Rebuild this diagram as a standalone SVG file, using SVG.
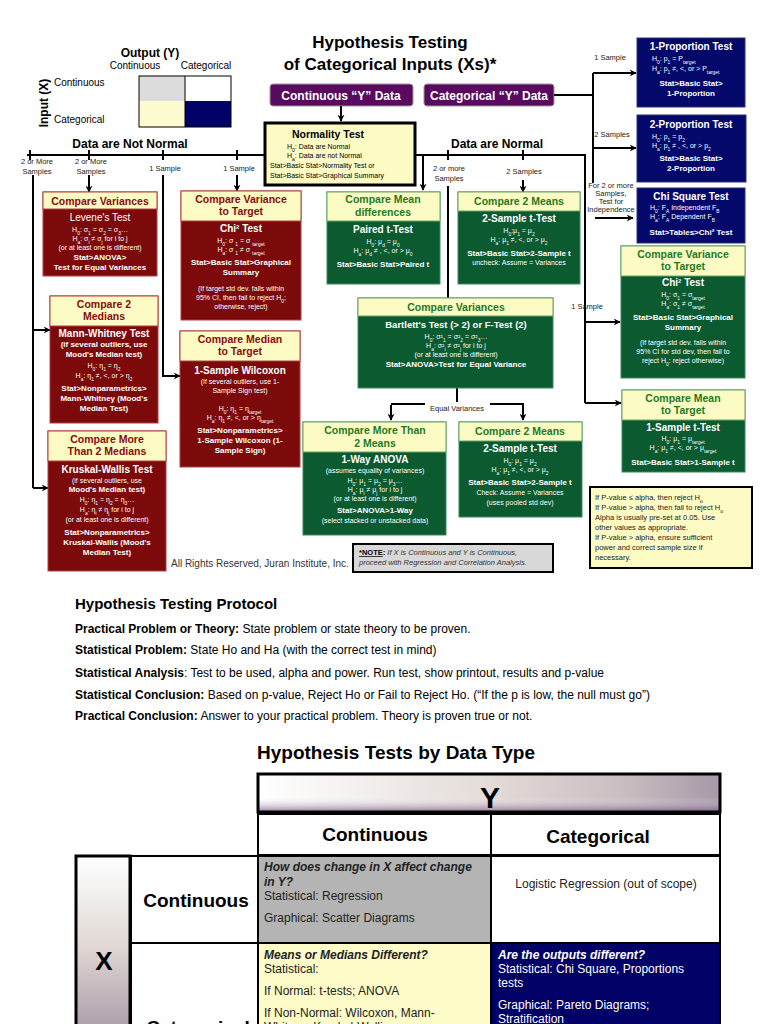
<svg xmlns="http://www.w3.org/2000/svg" width="768" height="1024" viewBox="0 0 768 1024">
<defs>
<marker id="ah" viewBox="0 0 10 10" refX="9" refY="5" markerWidth="7" markerHeight="7" orient="auto" markerUnits="userSpaceOnUse"><path d="M0,0 L10,5 L0,10 L3,5 z" fill="#000"/></marker>
<linearGradient id="gy" x1="0" x2="1" y1="0" y2="0"><stop offset="0" stop-color="#fff"/><stop offset="0.5" stop-color="#e4dcd8"/><stop offset="0.8" stop-color="#c8bcc0"/><stop offset="1" stop-color="#a898a8"/></linearGradient>
<linearGradient id="gy2" x1="0" x2="0" y1="0" y2="1"><stop offset="0.6" stop-color="#fff" stop-opacity="0"/><stop offset="1" stop-color="#6a4a7a" stop-opacity="0.7"/></linearGradient>
<linearGradient id="gx" x1="0" x2="0" y1="0" y2="1"><stop offset="0" stop-color="#fff"/><stop offset="0.5" stop-color="#e0d8d4"/><stop offset="1" stop-color="#a898a8"/></linearGradient>
</defs>
<style>
text{font-family:"Liberation Sans",Arial,sans-serif}
.c{text-anchor:middle}
.b{font-weight:bold}
.hd{font-weight:bold;font-size:10.5px;text-anchor:middle}
.hr{fill:#8b0a0a}.hg{fill:#1e7a1e}
.w{fill:#fff;text-anchor:middle}
.t{font-size:10px;font-weight:bold}
.s7{font-size:7px}.s8{font-size:8px;font-weight:bold}
.red{fill:#7d0a0a;stroke:#b04040;stroke-width:1}
.grn{fill:#0b5a30;stroke:#3b8a5a;stroke-width:1}
.nav{fill:#05086b;stroke:#303070;stroke-width:1}
.hy{fill:#fdfbc4;stroke:#b04040;stroke-width:1}
.hyg{fill:#fdfbc4;stroke:#6aa56a;stroke-width:1}
.ln{stroke:#000;stroke-width:2;fill:none}
.lb{font-size:7.5px;fill:#222}
.btn{fill:#5a0a5e;stroke:#999;stroke-width:1}
.p{font-size:12px;fill:#000}
.sub{font-size:70%;baseline-shift:sub}
</style>
<rect width="768" height="1024" fill="#fff"/>

<g id="title">
<text x="390" y="48" class="c b" font-size="17">Hypothesis Testing</text>
<text x="390" y="70" class="c b" font-size="17">of Categorical Inputs (Xs)*</text>
</g>

<g id="legend">
<text x="150" y="57" class="c b" font-size="12">Output (Y)</text>
<text x="135" y="69" class="c" font-size="10">Continuous</text>
<text x="206" y="69" class="c" font-size="10">Categorical</text>
<text transform="translate(48,103) rotate(-90)" class="c b" font-size="12">Input (X)</text>
<text x="54" y="86" font-size="10">Continuous</text>
<text x="54" y="123" font-size="10">Categorical</text>
<rect x="139" y="76" width="46" height="25" fill="#dcdcdc"/>
<rect x="185" y="76" width="46" height="25" fill="#fff"/>
<rect x="139" y="101" width="46" height="26" fill="#fdfbcf"/>
<rect x="185" y="101" width="46" height="26" fill="#000066"/>
<rect x="139" y="76" width="92" height="51" fill="none" stroke="#000" stroke-width="1"/>
<line x1="185" y1="76" x2="185" y2="127" stroke="#000"/>
</g>

<g id="btnCont"><rect x="270" y="84" width="143" height="22" rx="3" class="btn"/><text x="341" y="100" class="w b" font-size="12">Continuous “Y” Data</text></g>
<g id="btnCat"><rect x="424" y="84" width="130" height="22" rx="3" class="btn"/><text x="489" y="100" class="w b" font-size="12">Categorical “Y” Data</text></g>

<g id="connectors">
<path class="ln" d="M341,106 V121" marker-end="url(#ah)"/>
<path class="ln" d="M554,95 H593"/>
<path class="ln" d="M593,73 V183"/>
<path class="ln" d="M593,73 H636" marker-end="url(#ah)"/>
<path class="ln" d="M593,148 H636" marker-end="url(#ah)"/>
<path class="ln" d="M595,218 H633" marker-end="url(#ah)"/>
<path class="ln" d="M27,155 H264"/>
<path class="ln" d="M30,150 V160 M89,150 V160 M163,150 V160 M237,150 V160"/>
<path class="ln" d="M33,175 V488"/>
<path class="ln" d="M33,330 H50" marker-end="url(#ah)"/>
<path class="ln" d="M33,488 H48" marker-end="url(#ah)"/>
<path class="ln" d="M89,175 V192" marker-end="url(#ah)"/>
<path class="ln" d="M163,175 V376 H180" marker-end="url(#ah)"/>
<path class="ln" d="M237,175 V191" marker-end="url(#ah)"/>
<path class="ln" d="M416,155 H585 V403"/>
<path class="ln" d="M423,155 V190" marker-end="url(#ah)"/>
<path class="ln" d="M448,150 V160 M448,186 V298"/>
<path class="ln" d="M523,150 V160 M523,180 V192" marker-end="url(#ah)"/>
<path class="ln" d="M585,322 H620" marker-end="url(#ah)"/>
<path class="ln" d="M585,403 H621" marker-end="url(#ah)"/>
<path class="ln" d="M457,388 V402"/>
<path class="ln" d="M391,405 V420" marker-end="url(#ah)"/>
<path class="ln" d="M391,404 H425 M490,404 H523 V420" marker-end="url(#ah)"/>
</g>

<g id="labels">
<text x="130" y="148" class="c b" font-size="12">Data are Not Normal</text>
<text x="497" y="148" class="c b" font-size="12">Data are Normal</text>
<text x="37" y="164" class="c lb">2 or More</text><text x="37" y="174" class="c lb">Samples</text>
<text x="91" y="164" class="c lb">2 or More</text><text x="91" y="174" class="c lb">Samples</text>
<text x="165" y="171" class="c lb">1 Sample</text>
<text x="239" y="171" class="c lb">1 Sample</text>
<text x="449" y="171" class="c lb">2 or more</text><text x="449" y="181" class="c lb">Samples</text>
<text x="524" y="174" class="c lb">2 Samples</text>
<text x="610" y="60" class="c lb">1 Sample</text>
<text x="612" y="137" class="c lb">2 Samples</text>
<text x="611" y="188" class="c lb">For 2 or more</text><text x="611" y="196" class="c lb">Samples,</text><text x="611" y="204" class="c lb">Test for</text><text x="611" y="212" class="c lb">Independence</text>
<text x="587" y="309" class="c lb">1 Sample</text>
<text x="457" y="411" class="c lb">Equal Variances</text>
<text x="171" y="567" font-size="10" fill="#333">All Rights Reserved, Juran Institute, Inc.</text>
</g>

<g id="normality">
<rect x="265" y="123" width="150" height="62" fill="#fdfbc4" stroke="#000" stroke-width="3"/>
<text x="328" y="138" class="b" font-size="10.5" text-anchor="middle">Normality Test</text>
<text x="287" y="149" class="s7">H<tspan class="sub">0</tspan>:  Data are Normal</text>
<text x="287" y="158" class="s7">H<tspan class="sub">a</tspan>:  Data are not Normal</text>
<text x="270" y="168" class="s7">Stat&gt;Basic Stat&gt;Normality Test or</text>
<text x="270" y="178" class="s7">Stat&gt;Basic Stat&gt;Graphical Summary</text>
</g>

<g id="cmpVarL">
<rect x="43" y="192" width="114" height="84" class="red"/><rect x="43" y="192" width="114" height="17" class="hy"/>
<text x="100" y="205" class="hd hr">Compare Variances</text>
<text x="100" y="221" class="w" font-size="10">Levene's Test</text>
<text x="100" y="232" class="w s7">H<tspan class="sub">0</tspan>: σ<tspan class="sub">1</tspan> = σ<tspan class="sub">2</tspan> = σ<tspan class="sub">3</tspan>…</text>
<text x="100" y="241" class="w s7">H<tspan class="sub">a</tspan>: σ<tspan class="sub">i</tspan> ≠ σ<tspan class="sub">j</tspan> for i to j</text>
<text x="100" y="250" class="w s7">(or at least one is different)</text>
<text x="100" y="260" class="w s8">Stat&gt;ANOVA&gt;</text>
<text x="100" y="270" class="w s8">Test for Equal Variances</text>
</g>

<g id="cmp2Med">
<rect x="50" y="296" width="108" height="127" class="red"/><rect x="50" y="296" width="108" height="30" class="hy"/>
<text x="104" y="308" class="hd hr">Compare 2</text><text x="104" y="320" class="hd hr">Medians</text>
<text x="104" y="337" class="w t">Mann-Whitney Test</text>
<text x="104" y="347" class="w s8">(if several outliers, use</text>
<text x="104" y="357" class="w s8">Mood's Median test)</text>
<text x="104" y="368" class="w s7">H<tspan class="sub">0</tspan>:  η<tspan class="sub">1</tspan> = η<tspan class="sub">2</tspan></text>
<text x="104" y="378" class="w s7">H<tspan class="sub">a</tspan>:  η<tspan class="sub">1</tspan> ≠, &lt;, or &gt; η<tspan class="sub">2</tspan></text>
<text x="104" y="391" class="w s8">Stat&gt;Nonparametrics&gt;</text>
<text x="104" y="401" class="w s8">Mann-Whitney (Mood's</text>
<text x="104" y="411" class="w s8">Median Test)</text>
</g>

<g id="cmpMoreMed">
<rect x="48" y="431" width="118" height="140" class="red"/><rect x="48" y="431" width="118" height="30" class="hy"/>
<text x="107" y="443" class="hd hr">Compare More</text><text x="107" y="455" class="hd hr">Than 2 Medians</text>
<text x="107" y="473" class="w t">Kruskal-Wallis Test</text>
<text x="107" y="483" class="w s7">(if several outliers, use</text>
<text x="107" y="492" class="w s8" font-size="7.5">Mood's Median test)</text>
<text x="107" y="502" class="w s7">H<tspan class="sub">0</tspan>: η<tspan class="sub">1</tspan> = η<tspan class="sub">2</tspan> = η<tspan class="sub">3</tspan>…</text>
<text x="107" y="512" class="w s7">H<tspan class="sub">a</tspan>: η<tspan class="sub">i</tspan> ≠ η<tspan class="sub">j</tspan> for i to j</text>
<text x="107" y="522" class="w s7">(or at least one is different)</text>
<text x="107" y="535" class="w s8">Stat&gt;Nonparametrics&gt;</text>
<text x="107" y="545" class="w s8">Kruskal-Wallis (Mood's</text>
<text x="107" y="555" class="w s8">Median Test)</text>
</g>

<g id="cmpVarTgtL">
<rect x="181" y="191" width="120" height="129" class="red"/><rect x="181" y="191" width="120" height="30" class="hy"/>
<text x="241" y="203" class="hd hr">Compare Variance</text><text x="241" y="215" class="hd hr">to Target</text>
<text x="241" y="232" class="w t">Chi² Test</text>
<text x="241" y="243" class="w s7">H<tspan class="sub">0</tspan>: σ <tspan class="sub">1</tspan> = σ <tspan class="sub">target</tspan></text>
<text x="241" y="252" class="w s7">H<tspan class="sub">a</tspan>: σ <tspan class="sub">1</tspan> ≠ σ <tspan class="sub">target</tspan></text>
<text x="241" y="265" class="w s8">Stat&gt;Basic Stat&gt;Graphical</text>
<text x="241" y="275" class="w s8">Summary</text>
<text x="241" y="291" class="w s7">(If target std dev. falls within</text>
<text x="241" y="300" class="w s7">95% CI, then fail to reject H<tspan class="sub">0</tspan>;</text>
<text x="241" y="309" class="w s7">otherwise, reject)</text>
</g>

<g id="cmpMedTgt">
<rect x="180" y="331" width="120" height="136" class="red"/><rect x="180" y="331" width="120" height="30" class="hy"/>
<text x="240" y="343" class="hd hr">Compare Median</text><text x="240" y="355" class="hd hr">to Target</text>
<text x="240" y="374" class="w t">1-Sample Wilcoxon</text>
<text x="240" y="384" class="w s7">(If several outliers, use 1-</text>
<text x="240" y="393" class="w s7">Sample Sign test)</text>
<text x="240" y="411" class="w s7">H<tspan class="sub">0</tspan>: η<tspan class="sub">1</tspan> = η<tspan class="sub">target</tspan></text>
<text x="240" y="420" class="w s7">H<tspan class="sub">a</tspan>: η<tspan class="sub">1</tspan> ≠, &lt;, or &gt; η<tspan class="sub">target</tspan></text>
<text x="240" y="433" class="w s8">Stat&gt;Nonparametrics&gt;</text>
<text x="240" y="443" class="w s8">1-Sample Wilcoxon (1-</text>
<text x="240" y="453" class="w s8">Sample Sign)</text>
</g>

<g id="cmpMeanDiff">
<rect x="327" y="192" width="113" height="92" class="grn"/><rect x="327" y="192" width="113" height="29" class="hyg"/>
<text x="383" y="203" class="hd hg">Compare Mean</text><text x="383" y="216" class="hd hg">differences</text>
<text x="383" y="233" class="w t">Paired t-Test</text>
<text x="383" y="244" class="w s7">H<tspan class="sub">0</tspan>: μ<tspan class="sub">d</tspan> = μ<tspan class="sub">0</tspan></text>
<text x="383" y="253" class="w s7">H<tspan class="sub">a</tspan>: μ<tspan class="sub">d</tspan> ≠ , &lt;, or &gt; μ<tspan class="sub">0</tspan></text>
<text x="383" y="267" class="w s8">Stat&gt;Basic Stat&gt;Paired t</text>
</g>

<g id="cmp2MeansTop">
<rect x="458" y="192" width="122" height="92" class="grn"/><rect x="458" y="192" width="122" height="19" class="hyg"/>
<text x="519" y="205" class="hd hg">Compare 2 Means</text>
<text x="519" y="222" class="w t">2-Sample t-Test</text>
<text x="519" y="233" class="w s7">H<tspan class="sub">0</tspan>:μ<tspan class="sub">1</tspan> = μ<tspan class="sub">2</tspan></text>
<text x="519" y="242" class="w s7">H<tspan class="sub">a</tspan>: μ<tspan class="sub">1</tspan> ≠, &lt;, or &gt; μ<tspan class="sub">2</tspan></text>
<text x="519" y="256" class="w s8">Stat&gt;Basic Stat&gt;2-Sample t</text>
<text x="519" y="265" class="w s7">uncheck: Assume = Variances</text>
</g>

<g id="cmpVarMid">
<rect x="358" y="298" width="195" height="90" class="grn"/><rect x="358" y="298" width="195" height="18" class="hyg"/>
<text x="456" y="311" class="hd hg">Compare Variances</text>
<text x="456" y="328" class="w b" font-size="9.5">Bartlett's Test (&gt; 2) or F-Test (2)</text>
<text x="456" y="339" class="w s7">H<tspan class="sub">0</tspan>: σ²<tspan class="sub">1</tspan> = σ²<tspan class="sub">2</tspan> = σ²<tspan class="sub">3</tspan>…</text>
<text x="456" y="348" class="w s7">H<tspan class="sub">a</tspan>: σ²<tspan class="sub">i</tspan> ≠ σ²<tspan class="sub">j</tspan>  for i to j</text>
<text x="456" y="357" class="w s7">(or at least one is different)</text>
<text x="456" y="367" class="w s8">Stat&gt;ANOVA&gt;Test for Equal Variance</text>
</g>

<g id="cmpMoreMeans">
<rect x="303" y="422" width="143" height="113" class="grn"/><rect x="303" y="422" width="143" height="30" class="hyg"/>
<text x="375" y="434" class="hd hg">Compare More Than</text><text x="375" y="447" class="hd hg">2 Means</text>
<text x="375" y="463" class="w t">1-Way ANOVA</text>
<text x="375" y="473" class="w s7">(assumes equality of variances)</text>
<text x="375" y="483" class="w s7">H<tspan class="sub">0</tspan>: μ<tspan class="sub">1</tspan> = μ<tspan class="sub">2</tspan> = μ<tspan class="sub">3</tspan>…</text>
<text x="375" y="492" class="w s7">H<tspan class="sub">a</tspan>: μ<tspan class="sub">i</tspan> ≠ μ<tspan class="sub">j</tspan> for i to j</text>
<text x="375" y="501" class="w s7">(or at least one is different)</text>
<text x="375" y="513" class="w s8">Stat&gt;ANOVA&gt;1-Way</text>
<text x="375" y="523" class="w s7">(select stacked or unstacked data)</text>
</g>

<g id="cmp2MeansBot">
<rect x="459" y="422" width="123" height="95" class="grn"/><rect x="459" y="422" width="123" height="19" class="hyg"/>
<text x="520" y="435" class="hd hg">Compare 2 Means</text>
<text x="520" y="452" class="w t">2-Sample t-Test</text>
<text x="520" y="463" class="w s7">H<tspan class="sub">0</tspan>: μ<tspan class="sub">1</tspan> = μ<tspan class="sub">2</tspan></text>
<text x="520" y="472" class="w s7">H<tspan class="sub">a</tspan>: μ<tspan class="sub">1</tspan> ≠, &lt;, or &gt; μ<tspan class="sub">2</tspan></text>
<text x="520" y="485" class="w s8">Stat&gt;Basic Stat&gt;2-Sample t</text>
<text x="520" y="495" class="w s7">Check: Assume = Variances</text>
<text x="520" y="505" class="w s7">(uses pooled std dev)</text>
</g>

<g id="note">
<rect x="353" y="544" width="200" height="28" fill="#d8d8d8" stroke="#000" stroke-width="2"/>
<text x="359" y="555" font-size="7.5" fill="#333"><tspan class="b" fill="#000" text-decoration="underline">*NOTE</tspan><tspan class="b" fill="#000">:</tspan> <tspan font-style="italic">If X is Continuous and Y is Continuous,</tspan></text>
<text x="359" y="565" font-size="7.5" fill="#333" font-style="italic">proceed with Regression and Correlation Analysis.</text>
</g>

<g id="prop1">
<rect x="637" y="38" width="108" height="69" class="nav"/>
<text x="691" y="50" class="w t">1-Proportion Test</text>
<text x="652" y="61" class="s7" fill="#fff">H<tspan class="sub">0</tspan>:  p<tspan class="sub">1</tspan> = P<tspan class="sub">target</tspan></text>
<text x="652" y="71" class="s7" fill="#fff">H<tspan class="sub">a</tspan>:  p<tspan class="sub">1</tspan> ≠, &lt;, or &gt; P<tspan class="sub">target</tspan></text>
<text x="691" y="86" class="w s8">Stat&gt;Basic Stat&gt;</text>
<text x="691" y="96" class="w s8">1-Proportion</text>
</g>
<g id="prop2">
<rect x="637" y="115" width="109" height="67" class="nav"/>
<text x="691" y="128" class="w t">2-Proportion Test</text>
<text x="652" y="139" class="s7" fill="#fff">H<tspan class="sub">0</tspan>:  p<tspan class="sub">1</tspan> = p<tspan class="sub">2</tspan></text>
<text x="652" y="148" class="s7" fill="#fff">H<tspan class="sub">a</tspan>:  p<tspan class="sub">1</tspan> ≠ , &lt;, or &gt; p<tspan class="sub">2</tspan></text>
<text x="691" y="161" class="w s8">Stat&gt;Basic Stat&gt;</text>
<text x="691" y="171" class="w s8">2-Proportion</text>
</g>
<g id="chisq">
<rect x="637" y="188" width="108" height="55" class="nav"/>
<text x="691" y="200" class="w t">Chi Square Test</text>
<text x="650" y="210" class="s7" fill="#fff">H<tspan class="sub">0</tspan>:  F<tspan class="sub">A</tspan> Independent  F<tspan class="sub">B</tspan></text>
<text x="650" y="219" class="s7" fill="#fff">H<tspan class="sub">a</tspan>:  F<tspan class="sub">A</tspan> Dependent F<tspan class="sub">B</tspan></text>
<text x="691" y="235" class="w s8">Stat&gt;Tables&gt;Chi² Test</text>
</g>

<g id="cmpVarTgtR">
<rect x="621" y="246" width="124" height="132" class="grn"/><rect x="621" y="246" width="124" height="30" class="hyg"/>
<text x="683" y="258" class="hd hg">Compare Variance</text><text x="683" y="270" class="hd hg">to Target</text>
<text x="683" y="286" class="w t">Chi² Test</text>
<text x="683" y="297" class="w s7">H<tspan class="sub">0</tspan>: σ<tspan class="sub">1</tspan> = σ<tspan class="sub">target</tspan></text>
<text x="683" y="306" class="w s7">H<tspan class="sub">a</tspan>: σ<tspan class="sub">1</tspan> ≠ σ<tspan class="sub">target</tspan></text>
<text x="683" y="320" class="w s8">Stat&gt;Basic Stat&gt;Graphical</text>
<text x="683" y="330" class="w s8">Summary</text>
<text x="683" y="345" class="w s7">(If target std dev. falls within</text>
<text x="683" y="354" class="w s7">95% CI for std dev, then fail to</text>
<text x="683" y="363" class="w s7">reject H<tspan class="sub">0</tspan>:  reject otherwise)</text>
</g>

<g id="cmpMeanTgt">
<rect x="622" y="390" width="123" height="82" class="grn"/><rect x="622" y="390" width="123" height="30" class="hyg"/>
<text x="683" y="402" class="hd hg">Compare Mean</text><text x="683" y="414" class="hd hg">to Target</text>
<text x="683" y="431" class="w t">1-Sample t-Test</text>
<text x="683" y="441" class="w s7">H<tspan class="sub">0</tspan>: μ<tspan class="sub">1</tspan> = μ<tspan class="sub">target</tspan></text>
<text x="683" y="450" class="w s7">H<tspan class="sub">a</tspan>: μ<tspan class="sub">1</tspan> ≠, &lt;, or &gt; μ<tspan class="sub">target</tspan></text>
<text x="683" y="465" class="w s8">Stat&gt;Basic Stat&gt;1-Sample t</text>
</g>

<g id="pnote">
<rect x="590" y="487" width="162" height="81" fill="#fdfbc4" stroke="#000" stroke-width="2"/>
<g font-size="7.5" fill="#222">
<text x="595" y="500">If P-value ≤ alpha, then reject H<tspan class="sub">o</tspan></text>
<text x="595" y="510">If P-value &gt; alpha, then fail to reject H<tspan class="sub">o</tspan></text>
<text x="595" y="520">Alpha is usually pre-set at 0.05.  Use</text>
<text x="595" y="530">other values as appropriate.</text>
<text x="595" y="540">If P-value &gt; alpha, ensure sufficient</text>
<text x="595" y="550">power and correct sample size if</text>
<text x="595" y="560">necessary.</text>
</g>
</g>

<g id="protocol">
<text x="75" y="609" class="b" font-size="15">Hypothesis Testing Protocol</text>
<text x="75" y="633" class="p"><tspan class="b">Practical Problem or Theory:</tspan> State problem or state theory to be proven.</text>
<text x="75" y="654" class="p"><tspan class="b">Statistical Problem:</tspan> State Ho and Ha (with the correct test in mind)</text>
<text x="75" y="677" class="p"><tspan class="b">Statistical Analysis</tspan>: Test to be used, alpha and power.  Run test, show printout, results and p-value</text>
<text x="75" y="699" class="p"><tspan class="b">Statistical Conclusion:</tspan>  Based on p-value, Reject Ho or Fail to Reject Ho.  (“If the p is low, the null must go”)</text>
<text x="75" y="720" class="p"><tspan class="b">Practical Conclusion:</tspan>  Answer to your practical problem.  Theory is proven true or not.</text>
</g>

<g id="table">
<text x="257" y="759" class="b" font-size="19">Hypothesis Tests by Data Type</text>
<rect x="258" y="774" width="462" height="38" fill="url(#gy)"/>
<rect x="258" y="774" width="462" height="38" fill="url(#gy2)"/>
<rect x="258" y="774" width="462" height="38" fill="none" stroke="#000" stroke-width="3"/>
<text x="490" y="808" class="c b" font-size="30">Y</text>
<rect x="258" y="814" width="233" height="41" fill="#fff" stroke="#000" stroke-width="2"/>
<rect x="491" y="814" width="229" height="41" fill="#fff" stroke="#000" stroke-width="2"/>
<text x="375" y="841" class="c b" font-size="19">Continuous</text>
<text x="598" y="843" class="c b" font-size="19">Categorical</text>
<rect x="76" y="856" width="54" height="180" fill="url(#gx)" stroke="#000" stroke-width="3"/>
<text x="104" y="970" class="c b" font-size="26">X</text>
<rect x="131" y="856" width="127" height="87" fill="#fff" stroke="#000" stroke-width="2"/>
<rect x="131" y="943" width="127" height="90" fill="#fff" stroke="#000" stroke-width="2"/>
<text x="196" y="907" class="c b" font-size="19">Continuous</text>
<text x="198" y="1034" class="c b" font-size="19">Categorical</text>
<rect x="258" y="856" width="233" height="87" fill="#b4b4b4" stroke="#000" stroke-width="2"/>
<rect x="491" y="856" width="229" height="87" fill="#fff" stroke="#000" stroke-width="2"/>
<rect x="258" y="943" width="233" height="90" fill="#fdfbc8" stroke="#000" stroke-width="2"/>
<rect x="491" y="943" width="229" height="90" fill="#000066" stroke="#000" stroke-width="2"/>
<g font-size="12" fill="#222">
<text x="264" y="871" class="b" font-style="italic">How does change in X affect change</text>
<text x="264" y="886" class="b" font-style="italic">in Y?</text>
<text x="264" y="900">Statistical:  Regression</text>
<text x="264" y="922">Graphical:  Scatter Diagrams</text>
<text x="606" y="888" class="c">Logistic Regression (out of scope)</text>
<text x="264" y="959" class="b" font-style="italic">Means or Medians Different?</text>
<text x="264" y="973">Statistical:</text>
<text x="264" y="995">If Normal:  t-tests; ANOVA</text>
<text x="264" y="1017">If Non-Normal:  Wilcoxon, Mann-</text>
<text x="264" y="1031">Whitney, Kruskal-Wallis</text>
</g>
<g font-size="12" fill="#fff">
<text x="498" y="959" class="b" font-style="italic">Are the outputs different?</text>
<text x="498" y="973">Statistical:  Chi Square, Proportions</text>
<text x="498" y="987">tests</text>
<text x="498" y="1009">Graphical:  Pareto Diagrams;</text>
<text x="498" y="1023">Stratification</text>
</g>
</g>
</svg>
